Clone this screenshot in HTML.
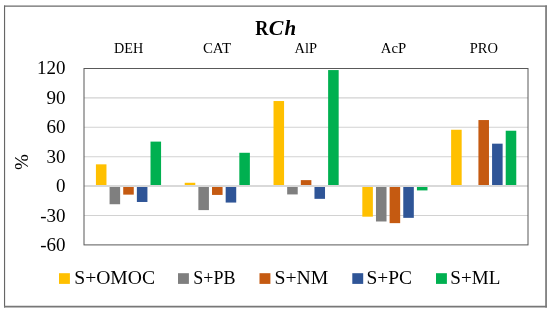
<!DOCTYPE html>
<html><head><meta charset="utf-8"><title>RCh</title>
<style>
html,body{margin:0;padding:0;background:#fff;}
body{width:550px;height:312px;overflow:hidden;}
svg{display:block;}
text{font-family:"Liberation Serif",serif;fill:#000;}
</style></head><body>
<svg width="550" height="312" viewBox="0 0 550 312">
<rect x="0" y="0" width="550" height="312" fill="#fff"/>
<path d="M4.55 5.5V307.4" stroke="#666" stroke-width="1.15" fill="none"/>
<path d="M4 6.1H547" stroke="#6a6a6a" stroke-width="1.35" fill="none"/>
<path d="M546.05 5.5V307.5" stroke="#777" stroke-width="1.7" fill="none"/>
<path d="M4 306.7H547" stroke="#777" stroke-width="1.7" fill="none"/>
<line x1="84.0" x2="528.0" y1="97.90" y2="97.90" stroke="#d2d2d2" stroke-width="1.1"/>
<line x1="84.0" x2="528.0" y1="127.30" y2="127.30" stroke="#d2d2d2" stroke-width="1.1"/>
<line x1="84.0" x2="528.0" y1="156.70" y2="156.70" stroke="#d2d2d2" stroke-width="1.1"/>
<line x1="84.0" x2="528.0" y1="215.50" y2="215.50" stroke="#d2d2d2" stroke-width="1.1"/>
<rect x="95.92" y="164.34" width="10.55" height="21.76" fill="#FFC000"/>
<rect x="109.57" y="186.10" width="10.55" height="18.13" fill="#7F7F7F"/>
<rect x="123.22" y="186.10" width="10.55" height="8.53" fill="#C55A11"/>
<rect x="136.88" y="186.10" width="10.55" height="15.88" fill="#2F5597"/>
<rect x="150.52" y="141.61" width="10.55" height="44.49" fill="#00B050"/>
<rect x="184.72" y="182.77" width="10.55" height="3.33" fill="#FFC000"/>
<rect x="198.37" y="186.10" width="10.55" height="24.01" fill="#7F7F7F"/>
<rect x="212.02" y="186.10" width="10.55" height="8.82" fill="#C55A11"/>
<rect x="225.67" y="186.10" width="10.55" height="16.46" fill="#2F5597"/>
<rect x="239.32" y="152.78" width="10.55" height="33.32" fill="#00B050"/>
<rect x="273.52" y="101.04" width="10.55" height="85.06" fill="#FFC000"/>
<rect x="287.17" y="186.10" width="10.55" height="8.33" fill="#7F7F7F"/>
<rect x="300.82" y="180.12" width="10.55" height="5.98" fill="#C55A11"/>
<rect x="314.47" y="186.10" width="10.55" height="12.74" fill="#2F5597"/>
<rect x="328.12" y="70.07" width="10.55" height="116.03" fill="#00B050"/>
<rect x="362.32" y="186.10" width="10.55" height="30.58" fill="#FFC000"/>
<rect x="375.97" y="186.10" width="10.55" height="35.38" fill="#7F7F7F"/>
<rect x="389.62" y="186.10" width="10.55" height="37.04" fill="#C55A11"/>
<rect x="403.27" y="186.10" width="10.55" height="31.75" fill="#2F5597"/>
<rect x="416.93" y="186.10" width="10.55" height="4.31" fill="#00B050"/>
<rect x="451.12" y="129.75" width="10.55" height="56.35" fill="#FFC000"/>
<rect x="478.42" y="120.05" width="10.55" height="66.05" fill="#C55A11"/>
<rect x="492.07" y="143.67" width="10.55" height="42.43" fill="#2F5597"/>
<rect x="505.72" y="130.73" width="10.55" height="55.37" fill="#00B050"/>
<line x1="84.0" x2="528.0" y1="186.00" y2="186.00" stroke="#d9d9d9" stroke-width="1.8"/>
<rect x="84.0" y="68.5" width="444.0" height="176.4" fill="none" stroke="#595959" stroke-width="1"/>
<text id="title" y="34.6" font-size="20" font-weight="bold"><tspan x="255.29" textLength="13.14" lengthAdjust="spacingAndGlyphs">R</tspan><tspan font-style="italic" x="268.75" textLength="14.65" lengthAdjust="spacingAndGlyphs">C</tspan><tspan font-style="italic" x="284.59" textLength="11.65" lengthAdjust="spacingAndGlyphs">h</tspan></text>
<text id="DEH" x="114.00" y="52.8" font-size="14" textLength="29.15" lengthAdjust="spacingAndGlyphs">DEH</text>
<text id="CAT" x="202.95" y="52.8" font-size="14" textLength="28.10" lengthAdjust="spacingAndGlyphs">CAT</text>
<text id="AlP" x="294.60" y="52.8" font-size="14" textLength="22.45" lengthAdjust="spacingAndGlyphs">AlP</text>
<text id="AcP" x="380.80" y="52.8" font-size="14" textLength="25.40" lengthAdjust="spacingAndGlyphs">AcP</text>
<text id="PRO" x="469.65" y="52.8" font-size="14" textLength="28.21" lengthAdjust="spacingAndGlyphs">PRO</text>
<text x="65.6" y="74.40" text-anchor="end" font-size="19">120</text>
<text x="65.6" y="103.88" text-anchor="end" font-size="19">90</text>
<text x="65.6" y="133.36" text-anchor="end" font-size="19">60</text>
<text x="65.6" y="162.84" text-anchor="end" font-size="19">30</text>
<text x="65.6" y="192.32" text-anchor="end" font-size="19">0</text>
<text x="65.6" y="221.80" text-anchor="end" font-size="19">-30</text>
<text x="65.6" y="251.28" text-anchor="end" font-size="19">-60</text>
<text transform="translate(28.3,162) rotate(-90)" text-anchor="middle" font-size="19">%</text>
<rect x="59" y="273.2" width="10.9" height="10.7" fill="#FFC000"/>
<text id="S_OMOC" x="74.23" y="284.35" font-size="19" textLength="80.84" lengthAdjust="spacingAndGlyphs">S+OMOC</text>
<rect x="178" y="273.2" width="10.9" height="10.7" fill="#7F7F7F"/>
<text id="S_PB" x="193.27" y="284.35" font-size="19" textLength="42.20" lengthAdjust="spacingAndGlyphs">S+PB</text>
<rect x="259.5" y="273.2" width="10.9" height="10.7" fill="#C55A11"/>
<text id="S_NM" x="274.52" y="284.35" font-size="19" textLength="53.89" lengthAdjust="spacingAndGlyphs">S+NM</text>
<rect x="352.3" y="273.2" width="10.9" height="10.7" fill="#2F5597"/>
<text id="S_PC" x="366.56" y="284.35" font-size="19" textLength="45.53" lengthAdjust="spacingAndGlyphs">S+PC</text>
<rect x="436" y="273.2" width="10.9" height="10.7" fill="#00B050"/>
<text id="S_ML" x="450.36" y="284.35" font-size="19" textLength="49.94" lengthAdjust="spacingAndGlyphs">S+ML</text>
</svg>
</body></html>
